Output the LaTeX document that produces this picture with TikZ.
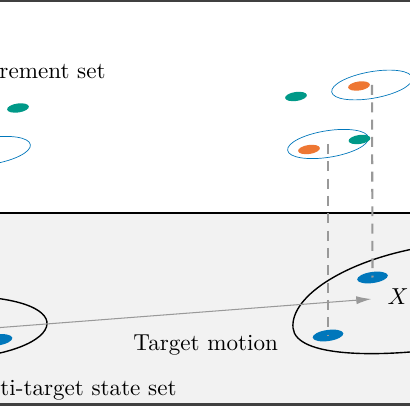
\documentclass[tikz,border=0pt]{standalone}
\usetikzlibrary{shapes.geometric,arrows.meta}

\definecolor{tolblue}{HTML}{0077BB}
\definecolor{tolorange}{HTML}{EE7733}
\definecolor{tolteal}{HTML}{009988}
\definecolor{panelgray}{HTML}{F2F2F2}
\definecolor{framegray}{HTML}{404040}
\definecolor{linkgray}{HTML}{999999}

\tikzset{
    measgate/.style={ellipse, draw=tolblue, line width=0.3pt, inner sep=0pt,
        minimum width=35.4pt, minimum height=11.5pt},
    dot/.style={ellipse, inner sep=0pt, minimum width=9.5pt, minimum height=3.9pt, rotate=8},
    clutter/.style={dot, fill=tolteal},
    target/.style={dot, fill=tolorange},
    state/.style={ellipse, fill=tolblue, inner sep=0pt,
        minimum width=13.4pt, minimum height=4.8pt, rotate=8},
    setline/.style={black, line width=0.6pt},
    projection/.style={linkgray, line width=0.9pt, dash pattern=on 4.3pt off 3.2pt},
    motion/.style={linkgray, line width=0.45pt, -{Latex[length=6.5pt,width=3.5pt]}, shorten >=3.5pt},
    caption/.style={inner sep=0pt}
}

\begin{document}
\begin{tikzpicture}[x=0.01522cm, y=-0.01522cm] % one unit = one pixel of the frame
        % Visible frame, 410 x 410
        \useasboundingbox (0,0) rectangle (410,410);
        \clip (0,0) rectangle (410,410);
        \def\panelLeft{-100}
        \def\panelRight{520}

        % Draw the two panels
        \fill[white] (\panelLeft,0) rectangle (\panelRight,410);
        \draw[framegray, line width=0.9pt] (\panelLeft,1) -- (\panelRight,1);
        \fill[panelgray] (\panelLeft,213) rectangle (\panelRight,404.5);
        \draw[black, line width=0.6pt] (\panelLeft,213) -- (\panelRight,213);
        \draw[framegray, line width=1.3pt] (\panelLeft,404.5) -- (\panelRight,404.5);

        % Labels
        \node[caption, anchor=base east] (measlabel) at (106,79) {Measurement set};
        \node[caption, anchor=base east] (statelabel) at (177,395) {Multi-target state set};
        \node[caption, anchor=base west] (motionlabel) at (133,350) {Target motion};
        \node (X) at (398,297) {$X$};

        % Draw the state sets
        \draw[setline] (-60,296) .. controls (20,294) and (48,310) .. (47,324)
            .. controls (46,340) and (10,358) .. (-60,360);
        \draw[setline] (430,246) .. controls (350,258) and (290,295) .. (293,328)
            .. controls (296,358) and (380,356) .. (430,350);
        \coordinate (leftset) at (-45,331);

        % Measurement gates and detections
        \node[measgate, rotate=9] (gateA) at (328,144) {};
        \node[measgate, rotate=10] (gateB) at (372,85) {};
        \node[measgate, rotate=9] (gateC) at (-10,151) {};
        \node[target] (detA) at (309,149.5) {};
        \node[target] (detB) at (359,86) {};
        \node[clutter] (clutA) at (359.5,139.5) {};
        \node[clutter] (clutB) at (296,96.5) {};
        \node[clutter] (clutC) at (18,108) {};

        % Target states
        \node[state] (stateA) at (328,335.5) {};
        \node[state] (stateB) at (372.5,277.5) {};
        \node[state] (stateC) at (-3,340) {};

        % Motion and projections
        \draw[motion] (leftset) -- (X);
        \foreach \g/\s in {gateA/stateA, gateB/stateB} {
            \draw[projection] (\g.center) -- (\s.center);
        }

    \end{tikzpicture}
\end{document}
